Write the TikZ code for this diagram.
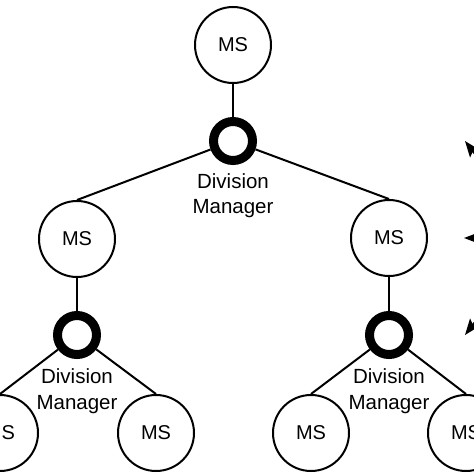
\documentclass[tikz,border=0pt]{standalone}
\usepackage{fontspec}
\setmainfont{Liberation Sans}
\usetikzlibrary{arrows.meta}
\begin{document}
\begin{tikzpicture}[x=1pt,y=-1pt,
  ms/.style={circle,draw,line width=2pt,fill=white,minimum size=76pt,inner sep=0pt,font=\fontsize{20}{24}\selectfont},
  ring/.style={circle,draw,line width=9pt,fill=white,minimum size=39pt,inner sep=0pt},
  lbl/.style={anchor=base,inner sep=0pt,font=\fontsize{20.5}{25}\selectfont},
  conn/.style={line width=2pt},
  pointer/.style={line width=2pt,-{Stealth[length=16pt,width=12pt,inset=3pt]}}]
\useasboundingbox (0,0) rectangle (474,474);
% nodes
\node[ms] (ms0) at (233,45) {MS};
\node[ring] (r0) at (233,141) {};
\node[ms] (ms1) at (77,239) {MS};
\node[ms] (ms2) at (389,238) {MS};
\node[ring] (r1) at (77,335) {};
\node[ring] (r2) at (389,335) {};
\node[ms] (ms3) at (0,433) {MS};
\node[ms] (ms4) at (156,433) {MS};
\node[ms] (ms5) at (311,433) {MS};
\node[ms] (ms6) at (466,433) {MS};
% labels
\node[lbl] (d0) at (233,188) {Division};
\node[lbl] (m0) at (233,213) {Manager};
\node[lbl] (d1) at (77,383) {Division};
\node[lbl] (m1) at (77,409) {Manager};
\node[lbl] (d2) at (389,383) {Division};
\node[lbl] (m2) at (389,409) {Manager};
% connectors
\draw[conn] (ms0) -- (r0);
\draw[conn] (r0) -- (ms1.north);
\draw[conn] (r0) -- (ms2.north);
\draw[conn] (ms1) -- (r1);
\draw[conn] (ms2) -- (r2);
\draw[conn] (r1) -- (ms3.north);
\draw[conn] (r1) -- (ms4.north);
\draw[conn] (r2) -- (ms5.north);
\draw[conn] (r2) -- (ms6.north);
% pointers from off-picture
\coordinate (src) at (540,238);
\coordinate (t1) at (465,141);
\coordinate (t2) at (464,238);
\coordinate (t3) at (465,335);
\draw[pointer] (src) -- (t1);
\draw[pointer] (src) -- (t2);
\draw[pointer] (src) -- (t3);
\end{tikzpicture}
\end{document}
